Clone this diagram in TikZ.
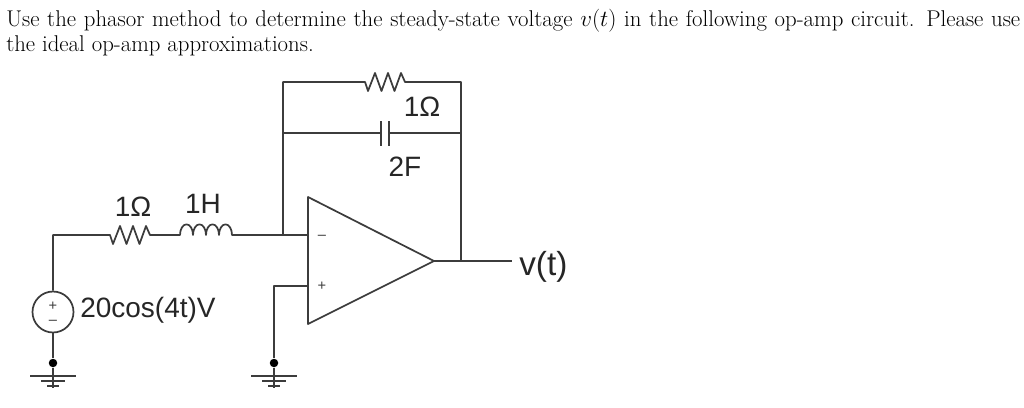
\documentclass[tikz,border=0pt]{standalone}
\usepackage{amsmath}
\usepackage{fontspec}
\setsansfont{Liberation Sans}
\usetikzlibrary{calc}
\definecolor{wirecol}{HTML}{3C3C3C}
\def\zigzag{-- ++(3,9) -- ++(7,-18) -- ++(6.5,18) -- ++(6.5,-18) -- ++(6.5,18) -- ++(6.5,-18) -- ++(4,9)}
\def\coil{arc[start angle=180,end angle=0,x radius=6.5*0.75pt,y radius=8pt] arc[start angle=180,end angle=0,x radius=6.5*0.75pt,y radius=8pt] arc[start angle=180,end angle=0,x radius=6.5*0.75pt,y radius=8pt] arc[start angle=180,end angle=0,x radius=6.5*0.75pt,y radius=8pt]}
\tikzset{
  wire/.style={draw=wirecol,line width=1.3pt,line join=round},
  lab/.style={font=\sffamily\fontsize{21}{24}\selectfont,text=black!85,inner sep=0pt},
  sign/.style={font=\sffamily\fontsize{11}{12}\selectfont,text=wirecol,inner sep=0pt,text height=5pt,text depth=0pt},
  para/.style={font=\fontsize{17.1}{18.4}\selectfont,text=black,inner sep=0pt,text width=760.5pt,align=justify},
  dotnode/.style={circle,fill=black,inner sep=0pt,minimum size=8.5pt*0.75}
}
\begin{document}
\begin{tikzpicture}[x=0.75pt,y=-0.75pt]
\useasboundingbox (0,0) rectangle (1024,407);
\node[para,anchor=north west] (question) at (6,9) {Use the phasor method to determine the steady-state voltage $v(t)$ in the following op-amp circuit. Please use\linebreak the ideal op-amp approximations.};
% op-amp
\coordinate (tl) at (308,197);
\coordinate (bl) at (308,324);
\coordinate (tip) at (434,261);
\draw[wire] (tl) -- (tip) -- (bl) -- cycle;
\node[sign] (minus) at (322,236) {--};
\node[sign] (plus) at (322,287) {+};
% feedback
\coordinate (node1) at (283,235);
\coordinate (ftl) at (283,82);
\coordinate (ftr) at (461,82);
\coordinate (fml) at (283,133);
\coordinate (fmr) at (461,133);
\coordinate (out) at (461,261);
\coordinate (ra) at (365,82);
\coordinate (ca) at (381,133);
\coordinate (cb) at (389,133);
\coordinate (cat) at (381,121);
\coordinate (cab) at (381,146);
\coordinate (cbt) at (389,121);
\coordinate (cbb) at (389,146);
\draw[wire] (node1) -- (ftl) -- (ra) \zigzag -- (ftr) -- (out);
\draw[wire] (fml) -- (ca);
\draw[wire] (cb) -- (fmr);
\draw[wire] (cat) -- (cab);
\draw[wire] (cbt) -- (cbb);
\node[lab] (rlabel) at (422,107) {1Ω};
\node[lab] (clabel) at (405,167) {2F};
% input
\node[circle,wire,minimum size=41pt*0.75,inner sep=0pt] (src) at (53,312) {};
\node[sign] (srcplus) at (53,307) {+};
\node[sign] (srcminus) at (53,321) {--};
\coordinate (wtl) at (53,235);
\coordinate (r2a) at (110,235);
\coordinate (l2a) at (180,235);
\coordinate (inv) at (308,235);
\draw[wire] (src) -- (wtl) -- (r2a) \zigzag -- (l2a) \coil -- (inv);
\node[lab] (r2label) at (133,207) {1Ω};
\node[lab] (l2label) at (203,204) {1H};
\node[lab,anchor=west] (vlabel) at (80,310) {20cos(4t)V};
% grounds
\node[dotnode] (g1) at (53,363) {};
\node[dotnode] (g2) at (274,363) {};
\draw[wire] (src) -- (g1);
\coordinate (ninv) at (308,286);
\coordinate (nc) at (274,286);
\draw[wire] (ninv) -- (nc) -- (g2);
\foreach \g in {g1,g2} {
  \draw[wire] (\g) -- ($(\g)+(0,25)$);
  \draw[wire] ($(\g)+(-23,13)$) -- ($(\g)+(23,13)$);
  \draw[wire] ($(\g)+(-12,18)$) -- ($(\g)+(12,18)$);
  \draw[wire] ($(\g)+(-6,23)$) -- ($(\g)+(6,23)$);
}
% output
\coordinate (vend) at (512,261);
\draw[wire] (tip) -- (vend);
\node[lab,anchor=west,font=\sffamily\fontsize{25}{28}\selectfont] (vt) at (519,267) {v(t)};
\end{tikzpicture}
\end{document}
